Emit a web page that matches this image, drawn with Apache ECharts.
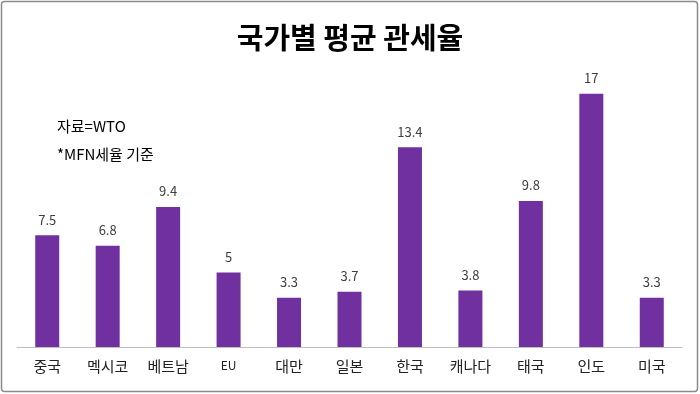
<!DOCTYPE html>
<html><head><meta charset="utf-8">
<script src="https://cdn.jsdelivr.net/npm/echarts@6/dist/echarts.min.js"></script>
<style>html,body{margin:0;padding:0;background:#fff}#c{width:700px;height:394px}</style>
</head><body><div id="c"></div>
<script>
const categories = ['중국','멕시코','베트남','EU','대만','일본','한국','캐나다','태국','인도','미국'];
const values = [7.5, 6.8, 9.4, 5, 3.3, 3.7, 13.4, 3.8, 9.8, 17, 3.3];
const font = '"Noto Sans CJK KR", "Noto Sans", sans-serif';
const chart = echarts.init(document.getElementById('c'), null, {renderer:'canvas'});
chart.setOption({
  animation:false,
  backgroundColor:'#fff',
  title:{text:'국가별 평균 관세율', left:'center', top:18,
    textStyle:{fontFamily:font, fontSize:29, fontWeight:'bold', color:'#000'}},
  grid:{left:17, right:18, top:49, bottom:47},
  xAxis:{type:'category', data:categories,
    axisLine:{lineStyle:{color:'#bfbfbf', width:1}},
    axisTick:{show:false},
    axisLabel:{fontFamily:font, fontSize:15, color:'#222', margin:12, interval:0,
      formatter:function(v){ return /^[A-Z]+$/.test(v) ? '{s|' + v + '}' : v; },
      rich:{s:{fontFamily:font, fontSize:12, color:'#222', padding:[0,0,6,0]}}}},
  yAxis:{type:'value', min:0, max:20, show:false, splitLine:{show:false}},
  series:[{type:'bar', data:values, barWidth:24,
    itemStyle:{color:'#7030A0'},
    label:{show:true, position:'top', distance:9, fontFamily:font, fontSize:13, color:'#404040'}}],
  graphic:[
    {type:'rect', shape:{x:1.5, y:1.5, width:696, height:390, r:3}, style:{fill:'none', stroke:'#8c8c8c', lineWidth:1.5}, z:-1},
    {type:'text', left:57, top:119, style:{text:'자료=WTO', font:'15px ' + font, fill:'#000'}},
    {type:'text', left:57, top:147, style:{text:'*MFN세율 기준', font:'15px ' + font, fill:'#000'}}
  ]
});
</script></body></html>
